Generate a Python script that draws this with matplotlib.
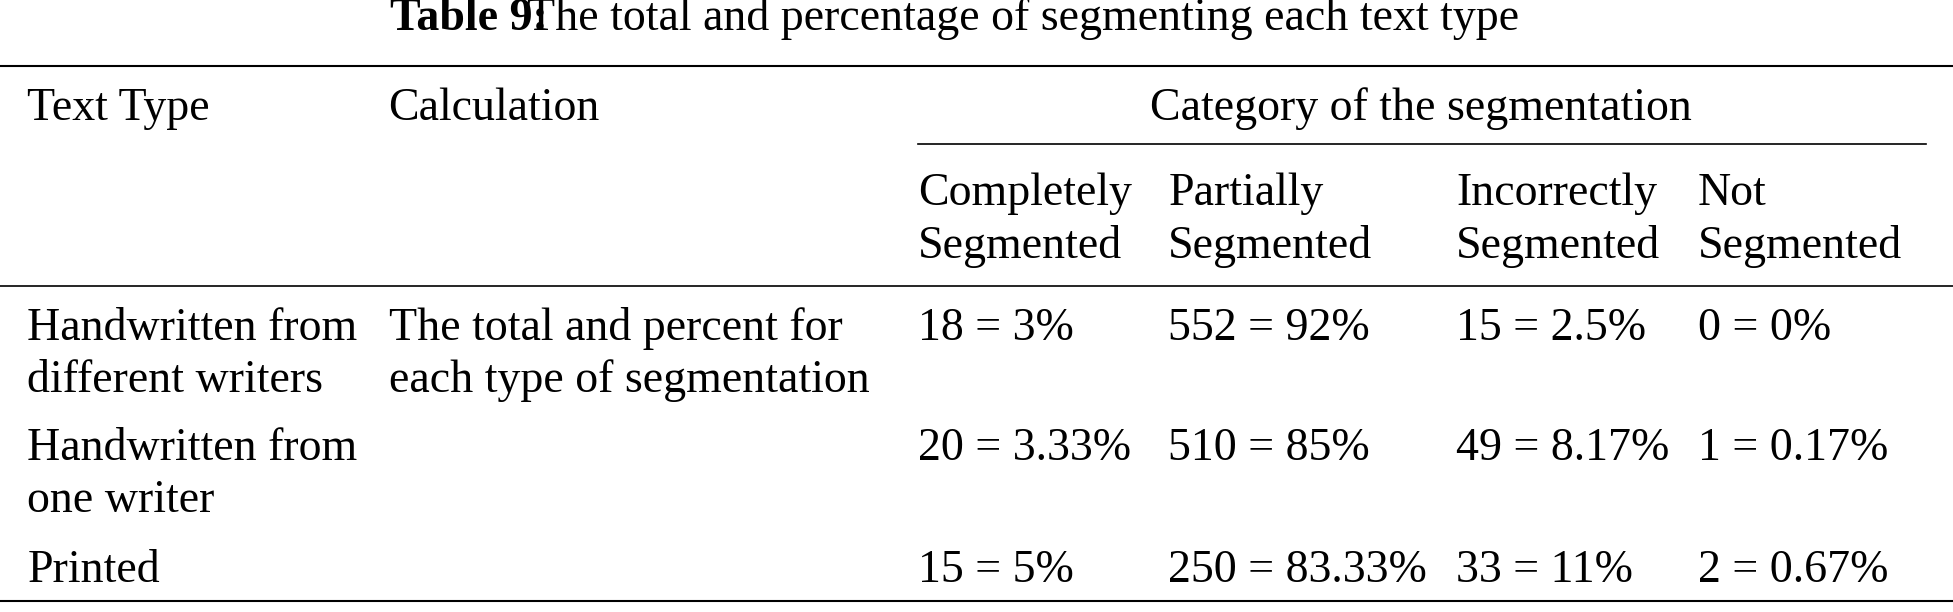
import matplotlib.pyplot as plt

title_bold = "Table 9:"
title_rest = "The total and percentage of segmenting each text type"
col_heads = ["Text Type", "Calculation"]
group_head = "Category of the segmentation"
sub_heads = [["Completely", "Segmented"], ["Partially", "Segmented"],
             ["Incorrectly", "Segmented"], ["Not", "Segmented"]]
text_types = [["Handwritten from", "different writers"],
              ["Handwritten from", "one writer"],
              ["Printed"]]
calc = [["The total and percent for", "each type of segmentation"], [], []]
values = [["18 = 3%", "552 = 92%", "15 = 2.5%", "0 = 0%"],
          ["20 = 3.33%", "510 = 85%", "49 = 8.17%", "1 = 0.17%"],
          ["15 = 5%", "250 = 83.33%", "33 = 11%", "2 = 0.67%"]]

W, H = 1568, 490
fig = plt.figure(figsize=(19.53, 6.12), dpi=100)
plt.rcParams['font.family'] = ['Liberation Serif']
fs = 33


def tx(x, y, s, **kw):
    fig.text(x / W, 1 - y / H, s, fontsize=fs, va='center', **kw)


def rule(x0, x1, y, lw=1.5):
    fig.add_artist(plt.Line2D([x0 / W, x1 / W], [1 - y / H, 1 - y / H], color='black', lw=lw))


tx(313, 15, title_bold, fontweight='bold')
tx(423, 15, title_rest)
rule(0, W, 53)
rule(737, 1546, 115, 1.2)
rule(0, W, 229, 1.2)
rule(0, W, 481)

tx(22, 87, col_heads[0])
tx(312, 87, col_heads[1])
tx(1141, 87, group_head, ha='center')

cols = [737, 938, 1169, 1363]
for x, lines in zip(cols, sub_heads):
    for j, s in enumerate(lines):
        tx(x, 155 + 42 * j, s)

row_y = [263, 359, 457]
for i, y in enumerate(row_y):
    for j, s in enumerate(text_types[i]):
        tx(22, y + 42 * j, s)
    for j, s in enumerate(calc[i]):
        tx(312, y + 42 * j, s)
    for x, s in zip(cols, values[i]):
        tx(x, y, s)

fig.savefig("out.png", dpi=100)
